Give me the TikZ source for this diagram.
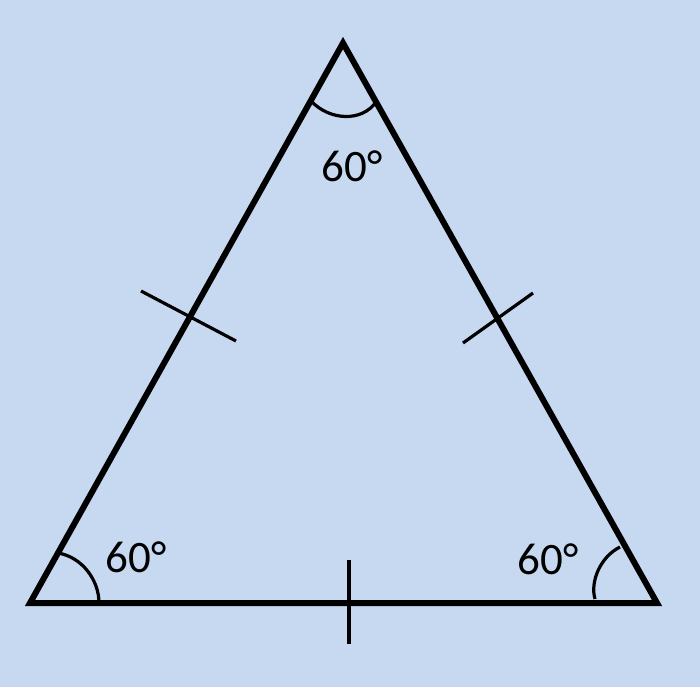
\documentclass[tikz,border=0pt]{standalone}
\usepackage{fontspec}
\setmainfont{Carlito}
\definecolor{bg}{HTML}{C6D9F1}
\begin{document}
\begin{tikzpicture}[x=1pt,y=-1pt,
  side/.style={line width=6pt,line join=miter,line cap=round},
  tick/.style={line width=3.2pt},
  anglearc/.style={line width=3.2pt},
  lbl/.style={font=\fontsize{45}{48}\selectfont,inner sep=0pt}]
\fill[bg] (0,0) rectangle (700,687);
\useasboundingbox (0,0) rectangle (700,687);
\coordinate (T) at (343,43);
\coordinate (L) at (30,603);
\coordinate (R) at (657,603);
\draw[side] (T) -- (L) -- (R) -- cycle;
% ticks
\coordinate (t1a) at (141,291); \coordinate (t1b) at (236,341);
\coordinate (t2a) at (463,343); \coordinate (t2b) at (533,293);
\coordinate (t3a) at (349,560); \coordinate (t3b) at (349,644);
\draw[tick] (t1a) -- (t1b);
\draw[tick] (t2a) -- (t2b);
\draw[tick] (t3a) -- (t3b);
% angle arcs
\coordinate (a1) at (311,101); \coordinate (a2) at (376,102);
\draw[anglearc] (a1) .. controls (330,121) and (362,122) .. (a2);
\coordinate (b1) at (58,553); \coordinate (b2) at (99,603);
\draw[anglearc] (b1) .. controls (82,557) and (99,580) .. (b2);
\coordinate (c1) at (620,547); \coordinate (c2) at (595,599);
\draw[anglearc] (c1) .. controls (600,557) and (590,582) .. (c2);
% labels
\node[lbl] (l1) at (352,166) {60°};
\node[lbl] (l2) at (136,557) {60°};
\node[lbl] (l3) at (548,559) {60°};
\end{tikzpicture}
\end{document}
